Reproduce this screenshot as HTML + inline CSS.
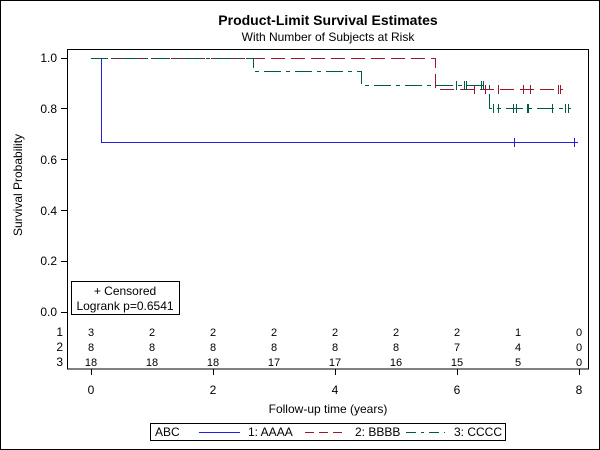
<!DOCTYPE html>
<html><head><meta charset="utf-8"><style>
html,body{margin:0;padding:0;background:#fff}
svg{display:block}
text{font-family:"Liberation Sans",Arial,sans-serif;fill:#000}
</style></head><body>
<svg width="600" height="450" viewBox="0 0 600 450" xmlns="http://www.w3.org/2000/svg" shape-rendering="crispEdges">
<rect x="0.5" y="0.5" width="599" height="449" fill="#fff" stroke="#000"/>
<text x="328" y="25" font-size="14" font-weight="bold" text-anchor="middle">Product-Limit Survival Estimates</text>
<text x="328" y="41" font-size="12" text-anchor="middle">With Number of Subjects at Risk</text>
<rect x="67.5" y="49.5" width="521" height="319.5" fill="none" stroke="#000"/>
<g stroke="#000">
<line x1="61" y1="58.5" x2="67" y2="58.5"/><line x1="61" y1="108.5" x2="67" y2="108.5"/>
<line x1="61" y1="159.5" x2="67" y2="159.5"/><line x1="61" y1="210.5" x2="67" y2="210.5"/>
<line x1="61" y1="261.5" x2="67" y2="261.5"/><line x1="61" y1="312.5" x2="67" y2="312.5"/>
<line x1="91.5" y1="369" x2="91.5" y2="375"/><line x1="213.5" y1="369" x2="213.5" y2="375"/>
<line x1="335.5" y1="369" x2="335.5" y2="375"/><line x1="457.5" y1="369" x2="457.5" y2="375"/>
<line x1="579.5" y1="369" x2="579.5" y2="375"/>
</g>
<g font-size="12" text-anchor="end">
<text x="57" y="62">1.0</text><text x="57" y="113">0.8</text><text x="57" y="164">0.6</text>
<text x="57" y="215">0.4</text><text x="57" y="265">0.2</text><text x="57" y="316">0.0</text>
<text x="63" y="336">1</text><text x="63" y="351">2</text><text x="63" y="366">3</text>
</g>
<text transform="translate(22,185) rotate(-90)" font-size="12" text-anchor="middle">Survival Probability</text>
<g font-size="12" text-anchor="middle">
<text x="91" y="394">0</text><text x="213" y="394">2</text><text x="335" y="394">4</text><text x="457" y="394">6</text><text x="579" y="394">8</text>
<text x="328" y="413">Follow-up time (years)</text>
</g>
<g font-size="11" text-anchor="middle">
<text x="91" y="336">3</text><text x="152" y="336">2</text><text x="213" y="336">2</text><text x="274" y="336">2</text><text x="335" y="336">2</text><text x="396" y="336">2</text><text x="457" y="336">2</text><text x="518" y="336">1</text><text x="579" y="336">0</text>
<text x="91" y="351">8</text><text x="152" y="351">8</text><text x="213" y="351">8</text><text x="274" y="351">8</text><text x="335" y="351">8</text><text x="396" y="351">8</text><text x="457" y="351">7</text><text x="518" y="351">4</text><text x="579" y="351">0</text>
<text x="91" y="366">18</text><text x="152" y="366">18</text><text x="213" y="366">18</text><text x="274" y="366">17</text><text x="335" y="366">17</text><text x="396" y="366">16</text><text x="457" y="366">15</text><text x="518" y="366">5</text><text x="579" y="366">0</text>
</g>
<polyline points="91,58.5 101.5,58.5 101.5,142.5 578,142.5" fill="none" stroke="#2020e0" stroke-width="1"/>
<g stroke="#2020e0"><line x1="514.5" y1="138" x2="514.5" y2="147"/><line x1="574.5" y1="138" x2="574.5" y2="147"/></g>
<polyline points="91,58.5 435.5,58.5 435.5,89.5 563,89.5" fill="none" stroke="#a01428" stroke-width="1" stroke-dasharray="14,6"/>
<g stroke="#a01428">
<line x1="474.5" y1="85" x2="474.5" y2="94"/><line x1="485.5" y1="85" x2="485.5" y2="94"/><line x1="498.5" y1="85" x2="498.5" y2="94"/>
<line x1="523.5" y1="85" x2="523.5" y2="94"/><line x1="530.5" y1="85" x2="530.5" y2="94"/><line x1="558.5" y1="85" x2="558.5" y2="94"/><line x1="560.5" y1="85" x2="560.5" y2="94"/>
</g>
<polyline points="91,58.5 253.5,58.5 253.5,71.5 361.5,71.5 361.5,85.5 489.5,85.5 489.5,108.5 571,108.5" fill="none" stroke="#005a48" stroke-width="1" stroke-dasharray="17,5,4,5"/>
<g stroke="#005a48">
<line x1="456.5" y1="81" x2="456.5" y2="90"/><line x1="464.5" y1="81" x2="464.5" y2="90"/><line x1="466.5" y1="81" x2="466.5" y2="90"/>
<line x1="481.5" y1="81" x2="481.5" y2="90"/><line x1="483.5" y1="81" x2="483.5" y2="90"/>
<line x1="493.5" y1="104" x2="493.5" y2="113"/><line x1="498.5" y1="104" x2="498.5" y2="113"/><line x1="513.5" y1="104" x2="513.5" y2="113"/>
<line x1="516.5" y1="104" x2="516.5" y2="113"/><line x1="527.5" y1="104" x2="527.5" y2="113"/><line x1="528.5" y1="104" x2="528.5" y2="113"/>
<line x1="552.5" y1="104" x2="552.5" y2="113"/><line x1="565.5" y1="104" x2="565.5" y2="113"/><line x1="568.5" y1="104" x2="568.5" y2="113"/>
</g>
<rect x="71.5" y="281.5" width="108" height="33" fill="#fff" stroke="#000"/>
<text x="125" y="295" font-size="12" text-anchor="middle">+ Censored</text>
<text x="125" y="310" font-size="12" text-anchor="middle">Logrank p=0.6541</text>
<rect x="150.5" y="423.5" width="355" height="17" fill="#fff" stroke="#000"/>
<text x="155" y="436" font-size="12">ABC</text>
<line x1="199" y1="432.5" x2="240" y2="432.5" stroke="#2020e0"/>
<text x="248" y="436" font-size="12">1: AAAA</text>
<line x1="305" y1="432.5" x2="344" y2="432.5" stroke="#a01428" stroke-dasharray="9,5"/>
<text x="355" y="436" font-size="12">2: BBBB</text>
<line x1="406" y1="432.5" x2="445" y2="432.5" stroke="#005a48" stroke-dasharray="10,5,3,5"/>
<text x="454" y="436" font-size="12">3: CCCC</text>
</svg>
</body></html>
